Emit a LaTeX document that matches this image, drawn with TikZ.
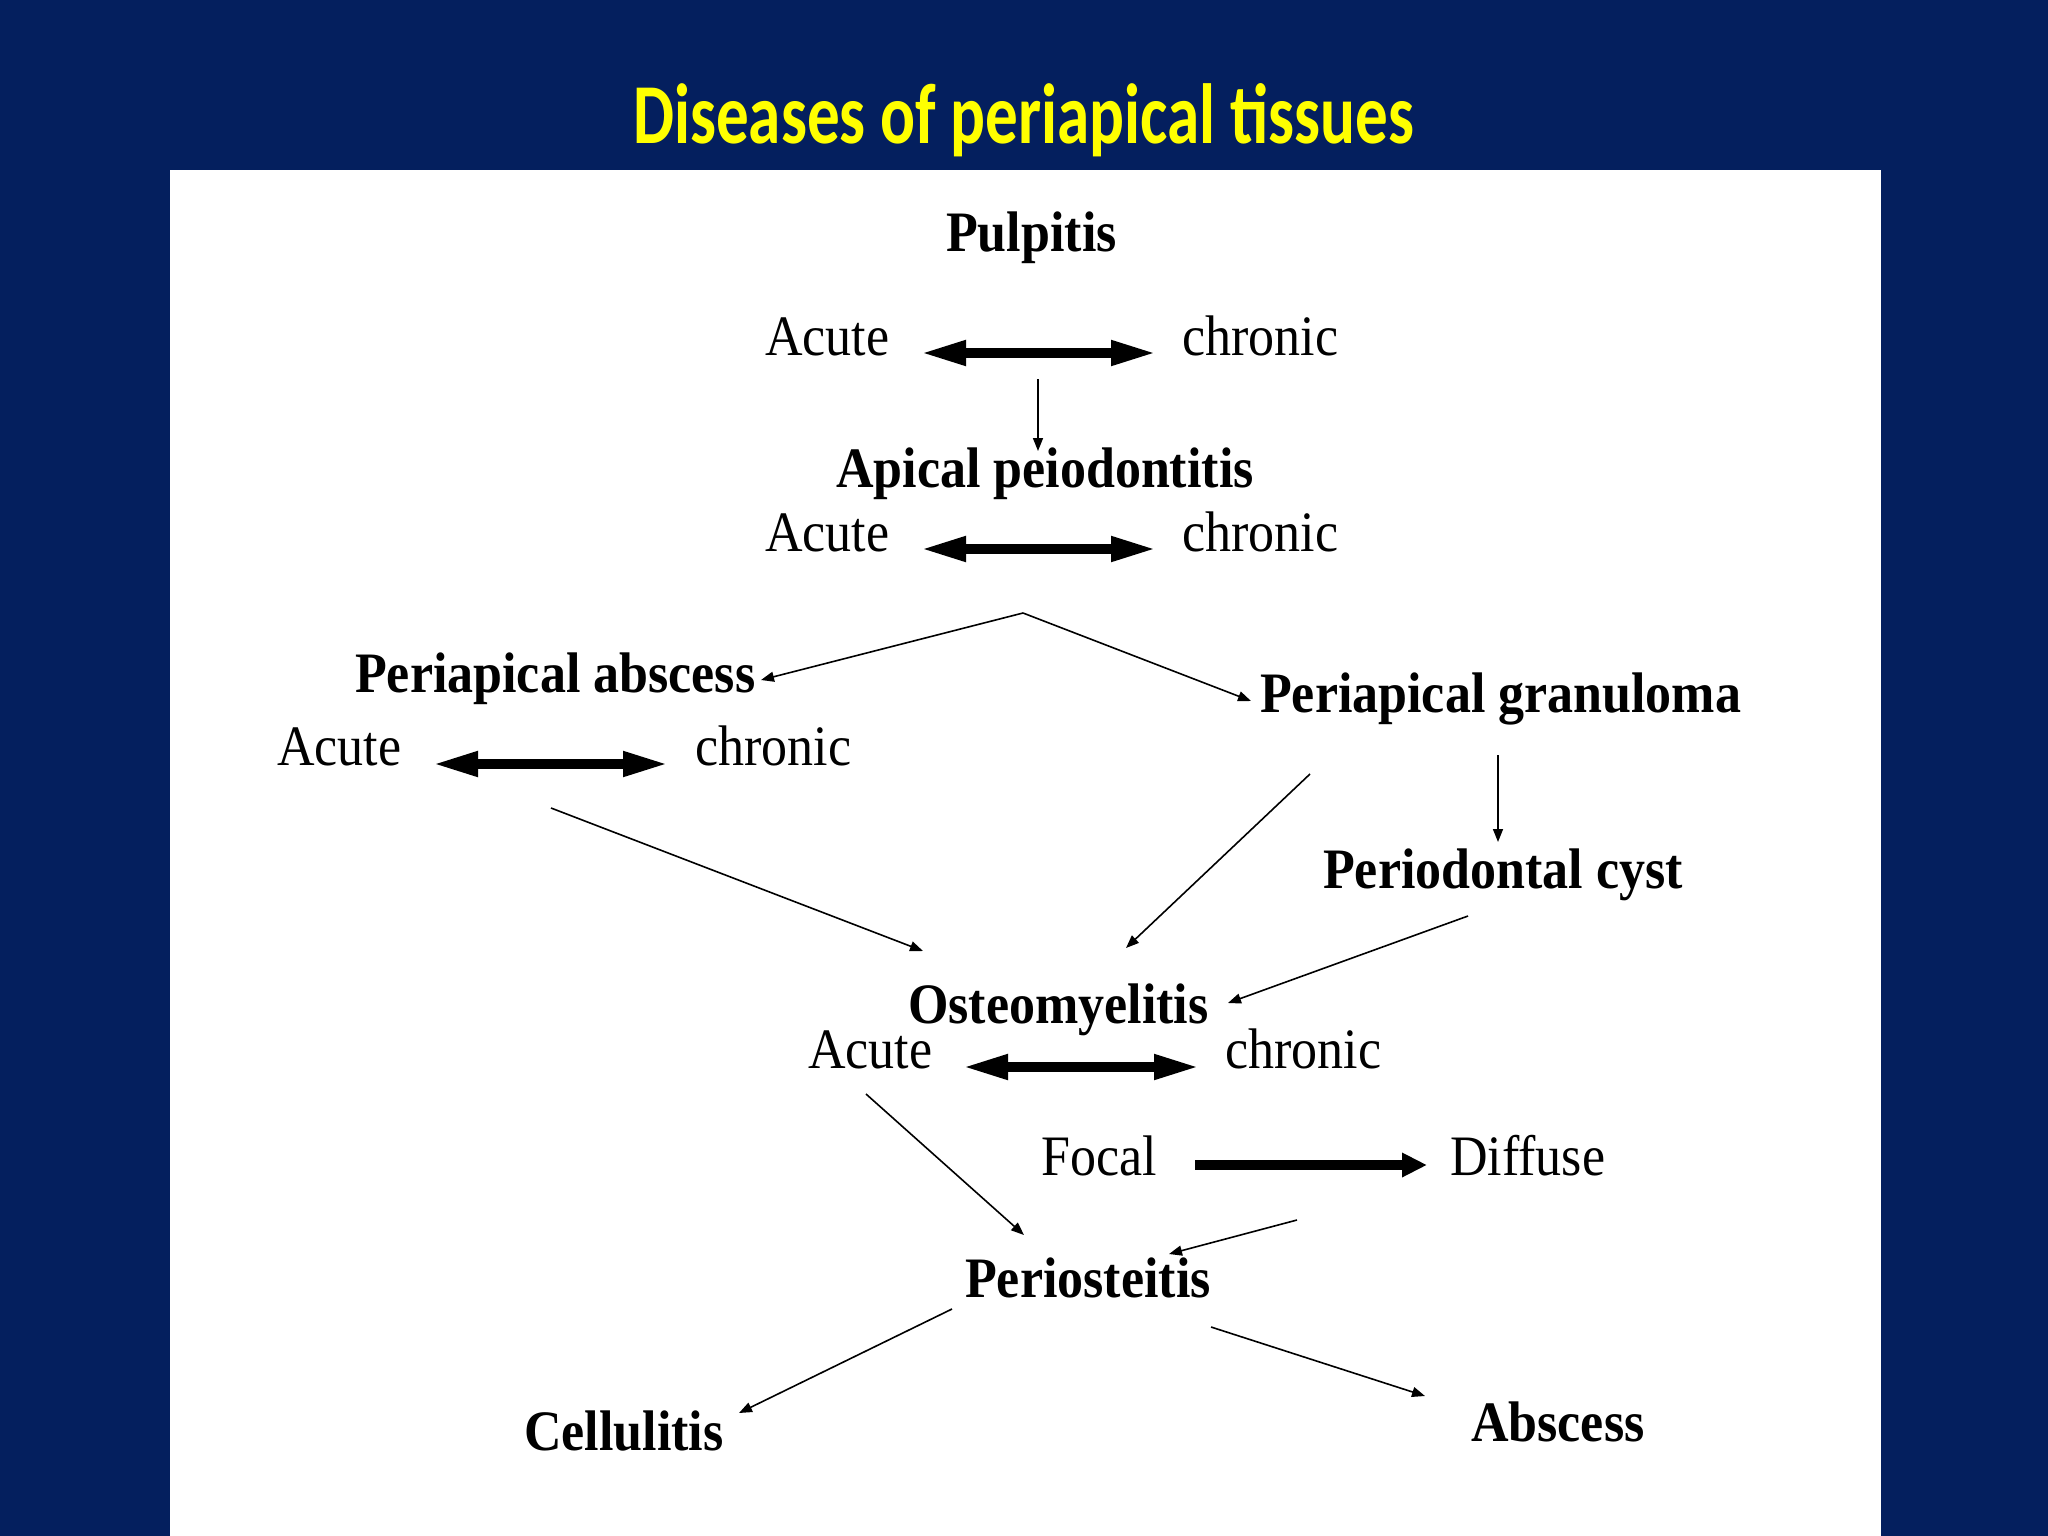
\documentclass[tikz,border=0pt]{standalone}
\usepackage{graphicx}
\usepackage{fontspec}
\setmainfont{Liberation Serif}
\newfontfamily\titlefont{Carlito}
\usetikzlibrary{arrows.meta}
\definecolor{navy}{RGB}{4,31,94}
\definecolor{ttl}{RGB}{255,255,0}
\newcommand{\vs}[1]{\scalebox{1}[1.1]{#1}}
\begin{document}
\begin{tikzpicture}[x=1pt,y=-1pt,
  lbl/.style={anchor=base west,inner sep=0pt,font=\fontsize{52}{60}\selectfont},
  bl/.style={anchor=base west,inner sep=0pt,font=\fontsize{52}{60}\selectfont\bfseries},
  thinarr/.style={line width=1.6pt,-{Triangle[length=13pt,width=10pt]}},
  dbl/.style={line width=10pt,{Triangle[length=46pt,width=23pt]}-{Triangle[length=46pt,width=23pt]}},
  fat/.style={line width=9.5pt,-{Triangle[length=25pt,width=23pt]}}]
\useasboundingbox (0,0) rectangle (2048,1536);
\fill[navy] (0,0) rectangle (2048,1536);
\fill[white] (170,170) rectangle (1881,1536);
\node[anchor=base west,inner sep=0pt,text=ttl] (title) at (633,143)
  {\resizebox{781pt}{60pt}{\titlefont\bfseries Diseases of periapical tissues}};
% labels
\node[bl] (pulp) at (946,251) {\vs{Pulpitis}};
\node[lbl] (a1) at (765,355) {\vs{Acute}};
\node[lbl] (c1) at (1182,355) {\vs{chronic}};
\node[bl] (apical) at (836,487) {\vs{Apical peiodontitis}};
\node[lbl] (a2) at (765,551) {\vs{Acute}};
\node[lbl] (c2) at (1182,551) {\vs{chronic}};
\node[bl] (pabs) at (355,692) {\vs{Periapical abscess}};
\node[bl] (pgran) at (1260,712) {\vs{Periapical granuloma}};
\node[lbl] (a3) at (277,765) {\vs{Acute}};
\node[lbl] (c3) at (695,765) {\vs{chronic}};
\node[bl] (cyst) at (1323,888) {\vs{Periodontal cyst}};
\node[bl] (osteo) at (908,1023) {\vs{Osteomyelitis}};
\node[lbl] (a4) at (808,1068) {\vs{Acute}};
\node[lbl] (c4) at (1225,1068) {\vs{chronic}};
\node[lbl] (focal) at (1041,1175) {\vs{Focal}};
\node[lbl] (diffuse) at (1450,1175) {\vs{Diffuse}};
\node[bl] (perio) at (965,1297) {\vs{Periosteitis}};
\node[bl] (cell) at (524,1450) {\vs{Cellulitis}};
\node[bl] (absc) at (1471,1441) {\vs{Abscess}};
% connector end points
\coordinate (d1l) at (920,353); \coordinate (d1r) at (1157,353);
\coordinate (d2l) at (920,549); \coordinate (d2r) at (1157,549);
\coordinate (d3l) at (432,764); \coordinate (d3r) at (669,764);
\coordinate (d4l) at (962,1067); \coordinate (d4r) at (1200,1067);
\coordinate (fs) at (1195,1165); \coordinate (fe) at (1427,1165);
\coordinate (v1s) at (1038,379); \coordinate (v1e) at (1038,451);
\coordinate (apex) at (1023,613);
\coordinate (sl) at (761,680); \coordinate (sr) at (1251,701);
\coordinate (p1s) at (551,808); \coordinate (p1e) at (923,951);
\coordinate (g1s) at (1310,774); \coordinate (g1e) at (1126,948);
\coordinate (g2s) at (1498,755); \coordinate (g2e) at (1498,842);
\coordinate (c1s) at (1468,916); \coordinate (c1e) at (1228,1003);
\coordinate (o1s) at (866,1094); \coordinate (o1e) at (1024,1235);
\coordinate (o2s) at (1297,1220); \coordinate (o2e) at (1169,1254);
\coordinate (q1s) at (952,1309); \coordinate (q1e) at (739,1413);
\coordinate (q2s) at (1211,1327); \coordinate (q2e) at (1425,1396);
% connectors
\draw[dbl] (d1l) -- (d1r);
\draw[dbl] (d2l) -- (d2r);
\draw[dbl] (d3l) -- (d3r);
\draw[dbl] (d4l) -- (d4r);
\draw[fat] (fs) -- (fe);
\draw[thinarr] (v1s) -- (v1e);
\draw[thinarr] (apex) -- (sl);
\draw[thinarr] (apex) -- (sr);
\draw[thinarr] (p1s) -- (p1e);
\draw[thinarr] (g1s) -- (g1e);
\draw[thinarr] (g2s) -- (g2e);
\draw[thinarr] (c1s) -- (c1e);
\draw[thinarr] (o1s) -- (o1e);
\draw[thinarr] (o2s) -- (o2e);
\draw[thinarr] (q1s) -- (q1e);
\draw[thinarr] (q2s) -- (q2e);
\end{tikzpicture}
\end{document}
